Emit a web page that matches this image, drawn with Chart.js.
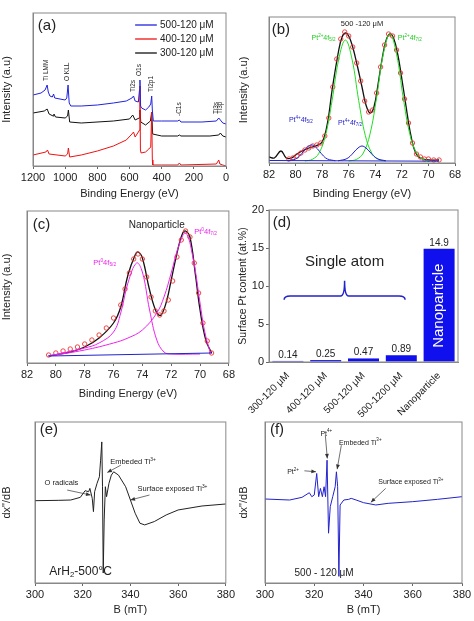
<!DOCTYPE html>
<html>
<head>
<meta charset="utf-8">
<script src="https://cdn.jsdelivr.net/npm/chart.js@4.4.1/dist/chart.umd.min.js"></script>
<style>
  body { margin: 0; background: #fff; }
  #wrap { position: relative; width: 474px; height: 621px; overflow: hidden; }
  canvas { position: absolute; }
</style>
</head>
<body>
<div id="wrap"></div>
<script>
// ---- (a) survey spectra: [binding energy, intensity]
const surveyBlue = [[1200,71],[1150,73],[1125,76],[1112,81],[1105,74],[1095,70],[1080,69],[1072,72],[1065,68],[1000,66],[990,68],[982,81],[975,63],[965,60],[900,60],[800,61],[700,63],[620,65],[585,68],[575,70],[565,65],[545,64],[538,76],[535,86],[531,60],[525,58],[500,56],[480,59],[468,62],[462,70],[458,56],[452,45],[400,45],[300,45],[290,46],[280,44],[150,44],[60,45],[45,48],[35,46],[20,43],[0,42]];
const surveyBlack = [[1200,53],[1130,55],[1112,57],[1100,52],[1075,50],[1070,52],[1060,49],[1000,48],[985,50],[980,56],[972,44],[900,43],[700,45],[600,47],[580,51],[565,46],[540,48],[535,56],[530,44],[500,41],[470,45],[462,54],[456,32],[400,30],[300,30],[290,31],[280,30],[100,30],[45,31],[35,33],[20,30],[0,29]];
const surveyRed = [[1200,11],[1120,14],[1110,16],[1100,12],[1000,10],[985,12],[980,18],[972,9],[900,11],[800,15],[700,20],[620,26],[585,32],[575,34],[565,29],[545,34],[537,36],[535,80],[532,16],[528,13],[500,14],[480,17],[468,19],[462,54],[458,6],[455,1],[400,1],[300,1],[290,3],[280,1],[60,2],[45,6],[38,2],[20,1],[0,0]];
const surveyNames = ['500-120 μM', '400-120 μM', '300-120 μM'];

// ---- (b) Pt 4f, 500-120 μM
const bData = [[80.5,4],[80.2,5],[79.9,7],[79.6,10],[79.3,13],[79.0,15],[78.7,17],[78.4,18],[78.1,20],[77.8,27],[77.5,45],[77.2,76],[76.9,104],[76.6,124],[76.3,131],[76.0,127],[75.7,116],[75.4,100],[75.1,82],[74.8,62],[74.5,51],[74.2,53],[73.9,70],[73.6,96],[73.3,118],[73.0,129],[72.7,127],[72.4,113],[72.1,90],[71.8,64],[71.5,40],[71.2,20],[70.9,9],[70.6,6],[70.3,4],[70.0,4],[69.6,3],[69.2,3]];
const bFit = [[82,6],[81.6,5],[81.1,12],[80.7,5],[80.3,5],[79.9,9],[79.5,12],[79.0,15],[78.5,17],[78.0,21],[77.6,40],[77.25,73],[76.75,113],[76.5,126],[76.25,130],[76.0,127],[75.7,116],[75.4,100],[75.0,76],[74.7,58],[74.4,50],[74.1,56],[73.8,78],[73.5,103],[73.2,122],[72.9,129],[72.6,124],[72.3,108],[72.0,84],[71.7,58],[71.4,33],[71.1,15],[70.8,7],[70.4,4],[70.0,3],[69.2,3]];
const bPt2a = [[79.3,2],[78.75,3.6],[78.25,9.6],[77.75,27.5],[77.25,62.5],[76.75,103.8],[76.25,123],[75.75,103.8],[75.25,62.5],[74.75,27.5],[74.25,9.6],[73.75,3.6],[73.25,2]];
const bPt2b = [[76.0,2],[75.4,3.7],[74.9,10],[74.4,28.8],[73.9,65.5],[73.4,108.8],[72.9,129],[72.4,108.8],[71.9,65.5],[71.4,28.8],[70.9,10],[70.4,3.7],[69.9,2]];
const bPt4a = [[80.6,2.2],[80.0,4],[79.7,7],[79.4,11.7],[79.1,16],[78.8,18],[78.5,16],[78.2,11.7],[77.9,7],[77.6,4],[77.0,2.2]];
const bPt4b = [[76.8,2.2],[76.2,4],[75.9,6.7],[75.6,11],[75.3,15],[75.0,17],[74.7,15],[74.4,11],[74.1,6.7],[73.8,4],[73.2,2.2]];
const bBase = [[82,2.5],[69.2,1.8]];

// ---- (c) Pt 4f, nanoparticle
const cData = [[80.5,8],[80.0,10],[79.5,12],[79.0,14],[78.5,16],[78.0,19],[77.5,23],[77.0,28],[76.5,35],[76.0,45],[75.5,58],[75.2,74],[74.9,90],[74.6,104],[74.3,109],[74.0,104],[73.7,86],[73.4,66],[73.1,52],[72.8,48],[72.5,52],[72.2,63],[71.9,82],[71.6,106],[71.3,123],[71.0,132],[70.7,126],[70.4,100],[70.1,70],[69.8,40],[69.5,22],[69.2,10]];
const cFit = [[80.5,7],[79.0,11],[78.0,16],[77.0,25],[76.0,40],[75.5,56],[75.0,88],[74.5,108],[74.3,111],[74.0,105],[73.5,73],[73.0,50],[72.7,48],[72.3,63],[72.0,83],[71.5,116],[71.2,130],[71.0,132],[70.7,126],[70.3,86],[70.0,53],[69.6,23],[69.2,10]];
const cPt0a = [[80.5,7],[78.0,15],[77.0,20],[76.0,31],[75.5,50],[75.0,80],[74.4,100],[74.0,91],[73.5,53],[73.0,23],[72.5,11],[72.0,9],[70.0,9]];
const cPt0b = [[80.5,7],[78.0,13],[76.0,20],[75.0,25],[74.0,33],[73.0,50],[72.5,66],[72.0,90],[71.5,116],[71.0,130],[70.5,106],[70.0,60],[69.7,33],[69.3,11],[69.2,9]];
const cBase = [[80.5,7],[69.2,10]];

// ---- (d) surface Pt content
const dCats = ['300-120 μM', '400-120 μM', '500-120 μM', '500-1200 μM', 'Nanoparticle'];
const dVals = [0.14, 0.25, 0.47, 0.89, 14.9];

// ---- (e),(f) EPR: [B (mT), signal]
const eprArH2 = [[300,3],[310,4],[315,5],[319,13],[321,33],[322.5,30],[323,40],[324,10],[324.5,-30],[325,30],[326,55],[327,75],[327.5,125],[328,180],[328.3,45],[328.6,-215],[329,-55],[329.5,45],[330,15],[331,55],[332,80],[333,90],[335,80],[338,45],[340,5],[342,-35],[344,-65],[346,-70],[350,-60],[355,-40],[360,-25],[370,-13],[380,-7]];
const epr500 = [[300,8],[310,5],[315,13],[318,27],[319,15],[320,20],[321,85],[321.8,15],[322.5,40],[323.3,15],[324,45],[324.6,15],[325.2,125],[325.8,-95],[326.5,-15],[327.5,15],[328.5,45],[329,90],[329.5,45],[330,-225],[330.5,-10],[332,5],[334,7],[335,10],[337,5],[340,-3],[345,-10],[350,-5],[360,0],[370,7],[380,15]];

const FONT = '"Liberation Sans", Arial, sans-serif';
Chart.defaults.font.family = FONT;
Chart.defaults.color = '#222';
Chart.defaults.animation = false;

function richText(ctx, str, x, y, size, align) {
  const parts = str.split(/(\^\{[^}]*\}|_\{[^}]*\})/).filter(s => s);
  const segs = parts.map(p => {
    if (p.startsWith('^{')) return { t: p.slice(2, -1), s: size * 0.65, dy: -size * 0.35 };
    if (p.startsWith('_{')) return { t: p.slice(2, -1), s: size * 0.65, dy: size * 0.25 };
    return { t: p, s: size, dy: 0 };
  });
  let w = 0;
  segs.forEach(g => { ctx.font = g.s + 'px ' + FONT; g.w = ctx.measureText(g.t).width; w += g.w; });
  let cx = align === 'center' ? x - w / 2 : align === 'right' ? x - w : x;
  ctx.textAlign = 'left';
  ctx.textBaseline = 'middle';
  segs.forEach(g => { ctx.font = g.s + 'px ' + FONT; ctx.fillText(g.t, cx, y + g.dy); cx += g.w; });
}

// frame + text/arrow notes in data coordinates
const notes = {
  id: 'notes',
  afterDraw(chart, args, opts) {
    const { ctx, chartArea: a, scales } = chart;
    const xs = scales.x, ys = scales.y;
    ctx.save();
    ctx.strokeStyle = '#888';
    ctx.lineWidth = 1;
    ctx.strokeRect(a.left, a.top, a.right - a.left, a.bottom - a.top);
    (opts.arrows || []).forEach(r => {
      const x1 = xs.getPixelForValue(r[0]), y1 = ys.getPixelForValue(r[1]);
      const x2 = xs.getPixelForValue(r[2]), y2 = ys.getPixelForValue(r[3]);
      ctx.strokeStyle = '#333'; ctx.fillStyle = '#333'; ctx.lineWidth = 0.7;
      ctx.beginPath(); ctx.moveTo(x1, y1); ctx.lineTo(x2, y2); ctx.stroke();
      const ang = Math.atan2(y2 - y1, x2 - x1);
      ctx.beginPath();
      ctx.moveTo(x2, y2);
      ctx.lineTo(x2 - 5 * Math.cos(ang - 0.4), y2 - 5 * Math.sin(ang - 0.4));
      ctx.lineTo(x2 - 5 * Math.cos(ang + 0.4), y2 - 5 * Math.sin(ang + 0.4));
      ctx.fill();
    });
    (opts.lines || []).forEach(l => {
      ctx.strokeStyle = l.c; ctx.lineWidth = 1.3;
      ctx.beginPath(); ctx.moveTo(xs.getPixelForValue(l.x1), ys.getPixelForValue(l.y));
      ctx.lineTo(xs.getPixelForValue(l.x2), ys.getPixelForValue(l.y)); ctx.stroke();
    });
    (opts.texts || []).forEach(t => {
      const px = xs.getPixelForValue(t.x), py = ys.getPixelForValue(t.y);
      ctx.fillStyle = t.c || '#222';
      ctx.save();
      ctx.translate(px, py);
      if (t.rot) ctx.rotate(t.rot * Math.PI / 180);
      richText(ctx, t.t, 0, 0, t.s || 9, t.al || 'left');
      ctx.restore();
    });
    ctx.restore();
  }
};

function fixBox(yw, xh) {
  return {
    y: a => { a.width = yw; },
    x: a => { a.height = xh; }
  };
}

function make(L, T, W, H, plot, cfg) {
  const c = document.createElement('canvas');
  c.width = W; c.height = H;
  c.style.left = L + 'px'; c.style.top = T + 'px';
  c.style.width = W + 'px'; c.style.height = H + 'px';
  document.getElementById('wrap').appendChild(c);
  const f = fixBox(plot.l - L, T + H - plot.b);
  cfg.options = cfg.options || {};
  cfg.options.responsive = false;
  cfg.options.layout = { padding: { top: plot.t - T, right: L + W - plot.r, left: 0, bottom: 0 } };
  cfg.options.scales.x.afterFit = f.x;
  cfg.options.scales.y.afterFit = f.y;
  cfg.plugins = [notes];
  return new Chart(c, cfg);
}

const line = (data, color, w, extra) => Object.assign({
  type: 'line', data: data.map(p => ({ x: p[0], y: p[1] })), borderColor: color,
  borderWidth: w, pointRadius: 0, fill: false, tension: 0
}, extra || {});
const circles = (data) => ({
  type: 'scatter', data: data.map(p => ({ x: p[0], y: p[1] })), borderColor: '#e33',
  backgroundColor: 'rgba(0,0,0,0)', pointRadius: 2.2, borderWidth: 0.9
});

function xAxis(min, max, step, reverse, title) {
  return {
    type: 'linear', min, max, reverse,
    afterBuildTicks: ax => { ax.ticks = ax.ticks.filter(t => Math.abs(t.value / step - Math.round(t.value / step)) < 1e-6); },
    ticks: { stepSize: step, font: { size: 11 }, color: '#222', padding: 2, maxRotation: 0, minRotation: 0, autoSkip: false,
             callback: v => String(v) },
    grid: { drawOnChartArea: false, tickLength: 3, color: '#666' },
    border: { color: '#888' },
    title: { display: true, text: title, font: { size: 11 }, padding: { top: 2 } }
  };
}
function yAxis(min, max, title) {
  return {
    min, max,
    ticks: { display: false },
    grid: { display: false },
    border: { color: '#888' },
    title: { display: true, text: title, font: { size: 11 }, padding: 0 }
  };
}
const baseOpts = (x, y, note) => ({
  scales: { x, y },
  plugins: { legend: { display: false }, tooltip: { enabled: false }, notes: note }
});

// (a)
make(0, 0, 237, 205, { l: 33, r: 226, t: 13, b: 166 }, {
  type: 'line',
  data: { datasets: [line(surveyBlue, '#2222dd', 1), line(surveyRed, '#ee1111', 1), line(surveyBlack, '#111', 1)] },
  options: baseOpts(xAxis(0, 1200, 200, true, 'Binding Energy (eV)'), yAxis(0, 153, 'Intensity (a.u)'), {
    lines: [{ x1: 565, x2: 430, y: 141, c: '#2222dd' }, { x1: 565, x2: 430, y: 127, c: '#ee1111' }, { x1: 565, x2: 430, y: 113, c: '#111' }],
    texts: [
      { x: 1170, y: 140, t: '(a)', s: 15 },
      { x: 410, y: 141, t: surveyNames[0], s: 10 }, { x: 410, y: 127, t: surveyNames[1], s: 10 }, { x: 410, y: 113, t: surveyNames[2], s: 10 },
      { x: 1118, y: 85, t: 'Ti LMM', s: 6.5, rot: -90 }, { x: 985, y: 85, t: 'O KLL', s: 6.5, rot: -90 },
      { x: 580, y: 74, t: 'Ti2s', s: 6.5, rot: -90 }, { x: 538, y: 90, t: 'O1s', s: 6.5, rot: -90 },
      { x: 465, y: 74, t: 'Ti2p1', s: 6.5, rot: -90 }, { x: 292, y: 50, t: '-C1s', s: 6.5, rot: -90 },
      { x: 62, y: 52, t: 'Ti3s', s: 6.5, rot: -90 }, { x: 38, y: 52, t: 'Ti3p', s: 6.5, rot: -90 }
    ]
  })
});

// (b)
make(237, 0, 237, 205, { l: 269, r: 455, t: 17, b: 163 }, {
  type: 'line',
  data: { datasets: [line(bBase, '#2222cc', 1), line(bPt4a, '#2222cc', 1, { tension: 0.4 }), line(bPt4b, '#2222cc', 1, { tension: 0.4 }),
    line(bPt2a, '#22dd22', 1, { tension: 0.4 }), line(bPt2b, '#22dd22', 1, { tension: 0.4 }),
    circles(bData), line(bFit, '#111', 1.3, { tension: 0.4 })] },
  options: baseOpts(xAxis(68, 82, 2, true, 'Binding Energy (eV)'), yAxis(0, 146, 'Intensity (a.u)'), {
    texts: [
      { x: 81.8, y: 133, t: '(b)', s: 15 },
      { x: 75.0, y: 139, t: '500 -120 μM', s: 7.5, al: 'center' },
      { x: 78.8, y: 125, t: 'Pt^{2+}4f_{5/2}', s: 7, c: '#22cc22' },
      { x: 72.3, y: 125, t: 'Pt^{2+}4f_{7/2}', s: 7, c: '#22cc22' },
      { x: 80.5, y: 43, t: 'Pt^{4+}4f_{5/2}', s: 7, c: '#2222cc' },
      { x: 76.8, y: 40, t: 'Pt^{4+}4f_{7/2}', s: 7, c: '#2222cc' }
    ]
  })
});

// (c)
make(0, 200, 237, 205, { l: 27, r: 229, t: 211, b: 363 }, {
  type: 'line',
  data: { datasets: [line(cBase, '#2222cc', 1), line(cPt0a, '#ee22ee', 1, { tension: 0.4 }), line(cPt0b, '#ee22ee', 1, { tension: 0.4 }),
    circles(cData), line(cFit, '#111', 1.3, { tension: 0.4 })] },
  options: baseOpts(xAxis(68, 82, 2, true, 'Binding Energy (eV)'), yAxis(0, 152, 'Intensity (a.u)'), {
    texts: [
      { x: 81.6, y: 138, t: '(c)', s: 15 },
      { x: 73.0, y: 138, t: 'Nanoparticle', s: 10, al: 'center' },
      { x: 77.4, y: 100, t: 'Pt^{0}4f_{5/2}', s: 7.5, c: '#ee22ee' },
      { x: 70.4, y: 131, t: 'Pt^{0}4f_{7/2}', s: 7.5, c: '#ee22ee' }
    ]
  })
});

// (d)
const dNotes = {
  id: 'dnotes',
  afterDraw(chart) {
    const { ctx, scales: { x, y } } = chart;
    ctx.save();
    ctx.fillStyle = '#222';
    ctx.font = '10px ' + FONT;
    ctx.textAlign = 'center';
    ctx.textBaseline = 'bottom';
    dVals.forEach((v, i) => ctx.fillText(String(v), x.getPixelForValue(i), y.getPixelForValue(v) - 1));
    // label inside the nanoparticle bar
    ctx.save();
    ctx.translate(x.getPixelForValue(4), y.getPixelForValue(7.4));
    ctx.rotate(-Math.PI / 2);
    ctx.fillStyle = '#fff';
    ctx.font = '15px ' + FONT;
    ctx.textBaseline = 'middle';
    ctx.fillText('Nanoparticle', 0, 0);
    ctx.restore();
    // brace over the single-atom samples
    const x1 = x.getPixelForValue(-0.1), x2 = x.getPixelForValue(3.1), xm = x.getPixelForValue(1.5);
    const yb = y.getPixelForValue(8.2), yl = y.getPixelForValue(8.7), yt = y.getPixelForValue(10.7);
    ctx.strokeStyle = '#2222cc';
    ctx.lineWidth = 1.5;
    ctx.beginPath();
    ctx.moveTo(x1, yb);
    ctx.quadraticCurveTo(x1, yl, x1 + 6, yl);
    ctx.lineTo(xm - 4, yl);
    ctx.quadraticCurveTo(xm, yl, xm, yt);
    ctx.quadraticCurveTo(xm, yl, xm + 4, yl);
    ctx.lineTo(x2 - 6, yl);
    ctx.quadraticCurveTo(x2, yl, x2, yb);
    ctx.stroke();
    ctx.fillStyle = '#222';
    ctx.font = '15px ' + FONT;
    ctx.textBaseline = 'middle';
    ctx.fillText('Single atom', xm, y.getPixelForValue(13.2));
    ctx.textAlign = 'left';
    ctx.font = '15px ' + FONT;
    ctx.fillText('(d)', x.getPixelForValue(-0.4), y.getPixelForValue(18.3));
    ctx.restore();
  }
};
const dChart = make(237, 200, 237, 221, { l: 269, r: 458, t: 210, b: 362 }, {
  type: 'bar',
  data: { labels: dCats, datasets: [{ data: dVals, backgroundColor: '#1010ee', barPercentage: 0.82, categoryPercentage: 1 }] },
  options: {
    scales: {
      x: { ticks: { maxRotation: 45, minRotation: 45, font: { size: 10 }, color: '#222', padding: 0 },
           grid: { display: false }, border: { color: '#888' } },
      y: { min: 0, max: 20, ticks: { stepSize: 5, font: { size: 11 }, color: '#222', padding: 2 },
           grid: { drawOnChartArea: false, tickLength: 3, color: '#666' }, border: { color: '#888' },
           title: { display: true, text: 'Surface Pt content (at.%)', font: { size: 10.5 }, padding: 0 } }
    },
    plugins: { legend: { display: false }, tooltip: { enabled: false }, notes: {} }
  }
});
dChart.config.plugins.push(dNotes);
dChart.update();

// (e)
make(0, 415, 237, 206, { l: 35, r: 233, t: 422, b: 583 }, {
  type: 'line',
  data: { datasets: [line(eprArH2, '#222', 1)] },
  options: baseOpts(xAxis(300, 380, 20, false, 'B (mT)'), yAxis(-245, 240, 'dx"/dB'), {
    arrows: [[313.5, 35, 323.3, 20], [336, 110, 330.3, 88], [348, 20, 340, 5]],
    texts: [
      { x: 302, y: 215, t: '(e)', s: 15 },
      { x: 304, y: 55, t: 'O radicals', s: 7.5 },
      { x: 331.5, y: 120, t: 'Embeded Ti^{3+}', s: 7.5 },
      { x: 343, y: 37, t: 'Surface exposed Ti^{3+}', s: 7.5 },
      { x: 306, y: -210, t: 'ArH_{2}-500°C', s: 12 }
    ]
  })
});

// (f)
make(237, 415, 237, 206, { l: 265, r: 462, t: 422, b: 583 }, {
  type: 'line',
  data: { datasets: [line(epr500, '#2222cc', 1)] },
  options: baseOpts(xAxis(300, 380, 20, false, 'B (mT)'), yAxis(-245, 240, 'dx"/dB'), {
    arrows: [[316, 93, 320.7, 90], [324.5, 200, 325.3, 130], [331, 170, 329.3, 98], [349, 40, 343, -2]],
    texts: [
      { x: 302, y: 215, t: '(f)', s: 15 },
      { x: 309, y: 88, t: 'Pt^{2+}', s: 7 },
      { x: 322.5, y: 205, t: 'Pt^{4+}', s: 7 },
      { x: 330, y: 178, t: 'Embeded Ti^{3+}', s: 7 },
      { x: 346, y: 60, t: 'Surface exposed Ti^{3+}', s: 7 },
      { x: 312, y: -215, t: '500 - 120 μM', s: 10 }
    ]
  })
});
</script>
</body>
</html>
